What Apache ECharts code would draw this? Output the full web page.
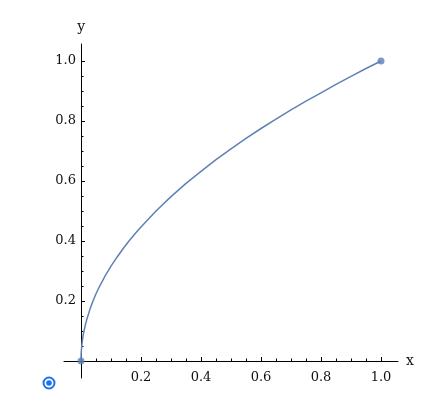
<!DOCTYPE html>
<html>
<head>
<meta charset="utf-8">
<script src="https://cdn.jsdelivr.net/npm/echarts@6/dist/echarts.min.js"></script>
<style>html,body{margin:0;padding:0;background:#fff;}#c{width:442px;height:394px;}</style>
</head>
<body>
<div id="c"></div>
<script>
// Curve points
const xValues = [0, 0.0005, 0.001, 0.0025, 0.005, 0.0075, 0.01, 0.015, 0.02, 0.03, 0.04, 0.05, 0.06, 0.08, 0.1, 0.12, 0.14, 0.16, 0.18, 0.2, 0.25, 0.3, 0.35, 0.4, 0.45, 0.5, 0.55, 0.6, 0.65, 0.7, 0.75, 0.8, 0.85, 0.9, 0.95, 1.0];
const yValues = [0, 0.022, 0.032, 0.05, 0.071, 0.087, 0.1, 0.122, 0.141, 0.173, 0.2, 0.224, 0.245, 0.283, 0.316, 0.346, 0.374, 0.4, 0.424, 0.447, 0.5, 0.548, 0.592, 0.632, 0.671, 0.707, 0.742, 0.775, 0.806, 0.837, 0.866, 0.894, 0.922, 0.949, 0.975, 1.0];
const endPointsX = [0, 1];
const endPointsY = [0, 1];
const tickLabels = ['0.2', '0.4', '0.6', '0.8', '1.0'];

const lineData = xValues.map((x, i) => [x, yValues[i]]);
const endData = endPointsX.map((x, i) => [x, endPointsY[i]]);
const font = 'DejaVu Serif';
const curveColor = '#5e81b5';
const fmt = v => {
  const s = v.toFixed(1);
  return tickLabels.indexOf(s) >= 0 ? s : '';
};

const chart = echarts.init(document.getElementById('c'), null, {renderer: 'canvas'});
chart.setOption({
  animation: false,
  grid: [
    {left: 81, right: 61, top: 61, bottom: 33},
    {left: 64, right: 44, top: 44, bottom: 16}
  ],
  xAxis: [
    {
      type: 'value', gridIndex: 0, min: 0, max: 1, interval: 0.2,
      axisLine: {show: false},
      splitLine: {show: false},
      axisTick: {show: true, inside: true, length: 4, lineStyle: {color: '#000'}},
      minorTick: {show: true, splitNumber: 4, length: 2.5, lineStyle: {color: '#000'}},
      axisLabel: {formatter: fmt, margin: 10, fontFamily: font, fontSize: 13, color: '#111'}
    },
    {
      type: 'value', gridIndex: 1, min: -0.057, max: 1.057,
      axisLine: {show: true, onZero: true, lineStyle: {color: '#000', width: 1}},
      axisTick: {show: false}, axisLabel: {show: false}, splitLine: {show: false},
      name: 'x', nameLocation: 'end', nameGap: 8,
      nameTextStyle: {fontFamily: font, fontSize: 14, color: '#111', verticalAlign: 'middle'}
    }
  ],
  yAxis: [
    {
      type: 'value', gridIndex: 0, min: 0, max: 1, interval: 0.2,
      axisLine: {show: false},
      splitLine: {show: false},
      axisTick: {show: true, inside: true, length: 4, lineStyle: {color: '#000'}},
      minorTick: {show: true, splitNumber: 4, length: 2.5, lineStyle: {color: '#000'}},
      axisLabel: {formatter: fmt, margin: 5, fontFamily: font, fontSize: 13, color: '#111'}
    },
    {
      type: 'value', gridIndex: 1, min: -0.057, max: 1.057,
      axisLine: {show: true, onZero: true, lineStyle: {color: '#000', width: 1}},
      axisTick: {show: false}, axisLabel: {show: false}, splitLine: {show: false},
      name: 'y', nameLocation: 'end', nameGap: 10,
      nameTextStyle: {fontFamily: font, fontSize: 14, color: '#111', align: 'center'}
    }
  ],
  series: [
    {
      type: 'line', xAxisIndex: 0, yAxisIndex: 0, data: lineData,
      showSymbol: false, smooth: false, clip: false,
      lineStyle: {color: curveColor, width: 1.5}
    },
    {
      type: 'scatter', xAxisIndex: 0, yAxisIndex: 0, data: endData,
      symbolSize: 7, clip: false,
      itemStyle: {color: curveColor}
    }
  ],
  graphic: [
    {type: 'circle', shape: {cx: 49, cy: 383, r: 5.5}, style: {fill: 'none', stroke: '#1a73e8', lineWidth: 2}},
    {type: 'circle', shape: {cx: 49, cy: 383, r: 2.8}, style: {fill: '#1a73e8'}}
  ]
});
</script>
</body>
</html>
